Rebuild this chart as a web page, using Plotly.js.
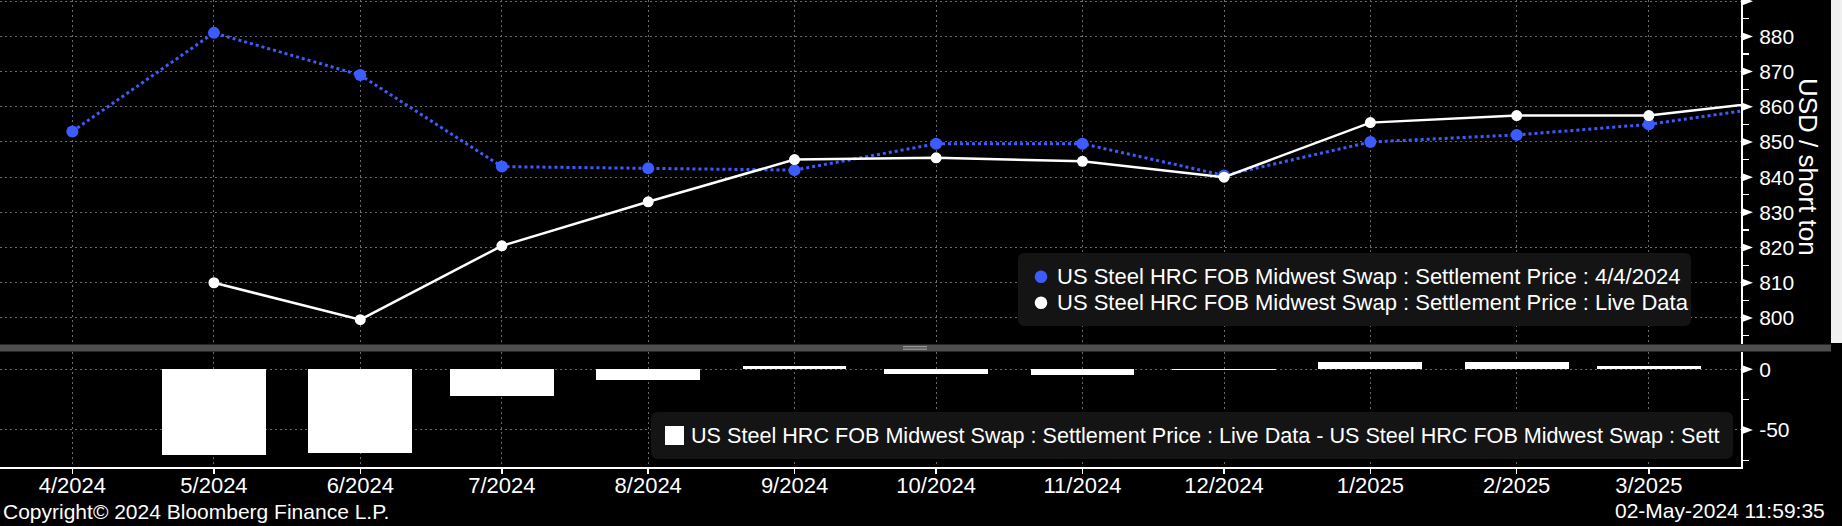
<!DOCTYPE html>
<html>
<head>
<meta charset="utf-8">
<script src="https://cdn.plot.ly/plotly-3.0.1.min.js"></script>
<style>
  html, body { margin: 0; padding: 0; background: #000; }
  #chart { width: 1842px; height: 526px; }
</style>
</head>
<body>
<div id="chart"></div>
<script>
// Contract months (first of month) on the date axis
const months = ['2024-04-01', '2024-05-01', '2024-06-01', '2024-07-01', '2024-08-01', '2024-09-01',
                '2024-10-01', '2024-11-01', '2024-12-01', '2025-01-01', '2025-02-01', '2025-03-01', '2025-04-01'];
const monthLabels = ['4/2024', '5/2024', '6/2024', '7/2024', '8/2024', '9/2024',
                     '10/2024', '11/2024', '12/2024', '1/2025', '2/2025', '3/2025'];

// US Steel HRC FOB Midwest swap settlement curve, USD / short ton
const curveApr4 = [853, 881, 869, 843, 842.5, 842, 849.5, 849.5, 840.5, 850, 852, 855, 861];
const curveLive = [null, 810, 799.5, 820.5, 833, 845, 845.5, 844.5, 840, 855.5, 857.5, 857.5, 862.3];

// Live minus 4/4/2024 curve
const spreadMonths = ['2024-05-01', '2024-06-01', '2024-07-01', '2024-08-01', '2024-09-01', '2024-10-01',
                      '2024-11-01', '2024-12-01', '2025-01-01', '2025-02-01', '2025-03-01'];
const spread = [-70.6, -69.3, -22.3, -9, 3, -3.6, -4.8, -0.5, 5.8, 5.8, 3];

// Axis ticks
const priceTicks = [800, 810, 820, 830, 840, 850, 860, 870, 880, 890];
const priceTickText = ['800', '810', '820', '830', '840', '850', '860', '870', '880', ''];
const spreadTicks = [0, -50];
const spreadTickText = ['0', '-50'];

const legendTop = [
  'US Steel HRC FOB Midwest Swap : Settlement Price : 4/4/2024',
  'US Steel HRC FOB Midwest Swap : Settlement Price : Live Data'
];
const legendBottom = 'US Steel HRC FOB Midwest Swap : Settlement Price : Live Data - US Steel HRC FOB Midwest Swap : Sett';

const FONT = 'Liberation Sans, Arial, sans-serif';
const BLUE = '#3d5cff';
const GRID = '#6a6a6a';

// Pixel geometry of the figure
const W = 1842, H = 526;
const M = { l: 0, r: 101, t: 0, b: 59 };
const PW = W - M.l - M.r;   // plot width
const PH = H - M.t - M.b;   // plot height
const px = x => (x - M.l) / PW;            // pixel x -> paper x
const py = y => (PH - (y - M.t)) / PH;     // pixel y -> paper y

const traces = [
  {
    x: months, y: curveApr4, xaxis: 'x', yaxis: 'y',
    mode: 'lines+markers', type: 'scatter',
    line: { color: BLUE, width: 3, dash: 'dot' },
    marker: { color: BLUE, size: 12 },
    hoverinfo: 'skip', showlegend: false
  },
  {
    x: months, y: curveLive, xaxis: 'x', yaxis: 'y',
    mode: 'lines+markers', type: 'scatter',
    line: { color: '#ffffff', width: 2.5 },
    marker: { color: '#ffffff', size: 11 },
    hoverinfo: 'skip', showlegend: false
  },
  {
    x: spreadMonths, y: spread, xaxis: 'x', yaxis: 'y2', type: 'bar',
    width: 22 * 86400000,
    marker: { color: '#ffffff', line: { width: 0 } },
    hoverinfo: 'skip', showlegend: false
  }
];

// Rounded rectangle in pixel units, anchored at its lower-left corner (y up)
function roundedBox(x0, y0, x1, y1, r, fill) {
  const w = x1 - x0, h = y1 - y0;
  const path = `M${r},0 L${w - r},0 Q${w},0 ${w},${r} L${w},${h - r} Q${w},${h} ${w - r},${h} ` +
               `L${r},${h} Q0,${h} 0,${h - r} L0,${r} Q0,0 ${r},0 Z`;
  return {
    type: 'path', xref: 'paper', yref: 'paper',
    xsizemode: 'pixel', ysizemode: 'pixel',
    xanchor: px(x0), yanchor: py(y1),
    path: path, fillcolor: fill, line: { width: 0 }, layer: 'above'
  };
}

const shapes = [];

// Splitter bar between the two panels
shapes.push({ type: 'rect', xref: 'paper', yref: 'paper', x0: 0, x1: px(1831),
  y0: py(351.5), y1: py(344.5), fillcolor: '#4e4e4e', line: { width: 0 }, layer: 'above' });
shapes.push({ type: 'line', xref: 'paper', yref: 'paper', x0: px(903), x1: px(927),
  y0: py(346.7), y1: py(346.7), line: { color: '#9c9c9c', width: 1.2 }, layer: 'above' });
shapes.push({ type: 'line', xref: 'paper', yref: 'paper', x0: px(903), x1: px(927),
  y0: py(349.2), y1: py(349.2), line: { color: '#9c9c9c', width: 1.2 }, layer: 'above' });

// Light strip at the right edge of the upper panel
shapes.push({ type: 'rect', xref: 'paper', yref: 'paper', x0: px(1831), x1: px(1842),
  y0: py(343), y1: 1, fillcolor: '#f0f0f0', line: { width: 0 } });

// Triangle pointers at the major price ticks
function pointer(yref, v) {
  return {
    type: 'path', xref: 'paper', yref: yref,
    xsizemode: 'pixel', ysizemode: 'pixel', xanchor: 1, yanchor: v,
    path: 'M0,-4.5 L12,0 L0,4.5 Z', fillcolor: '#ffffff', line: { width: 0 }, layer: 'above'
  };
}
priceTicks.forEach(v => shapes.push(pointer('y', v)));
spreadTicks.forEach(v => shapes.push(pointer('y2', v)));

// Legend panels
shapes.push(roundedBox(1018, 253, 1691, 326, 7, '#141414'));
shapes.push({ type: 'circle', xref: 'paper', yref: 'paper', xsizemode: 'pixel', ysizemode: 'pixel',
  xanchor: px(1041), yanchor: py(276.7), x0: -6.3, x1: 6.3, y0: -6.3, y1: 6.3,
  fillcolor: BLUE, line: { width: 0 }, layer: 'above' });
shapes.push({ type: 'circle', xref: 'paper', yref: 'paper', xsizemode: 'pixel', ysizemode: 'pixel',
  xanchor: px(1041), yanchor: py(302.7), x0: -6.3, x1: 6.3, y0: -6.3, y1: 6.3,
  fillcolor: '#ffffff', line: { width: 0 }, layer: 'above' });

shapes.push(roundedBox(651, 412, 1733, 459, 7, '#141414'));
shapes.push({ type: 'rect', xref: 'paper', yref: 'paper', x0: px(665), x1: px(684),
  y0: py(445), y1: py(426), fillcolor: '#ffffff', line: { width: 0 }, layer: 'above' });

const txt = (text, x, y, xanchor, size, extra) => Object.assign({
  text: text, xref: 'paper', yref: 'paper', x: px(x), y: py(y),
  xanchor: xanchor, yanchor: 'middle', showarrow: false,
  font: { family: FONT, size: size, color: '#ffffff' }
}, extra || {});

const annotations = [
  txt(legendTop[0], 1055, 276.7, 'left', 22),
  txt(legendTop[1], 1055, 302.7, 'left', 22),
  txt(legendBottom, 689, 435.5, 'left', 21.6),
  txt('Copyright© 2024 Bloomberg Finance L.P.', 1, 511.5, 'left', 21),
  txt('02-May-2024 11:59:35', 1827, 510.5, 'right', 21),
  txt('USD / short ton', 1808, 167, 'center', 26, { textangle: 90 })
];

const layout = {
  width: W, height: H,
  margin: M,
  paper_bgcolor: '#000000', plot_bgcolor: '#000000',
  font: { family: FONT, color: '#ffffff', size: 21 },
  showlegend: false,
  bargap: 0,
  xaxis: {
    type: 'date', anchor: 'y2',
    range: ['2024-03-16 16:10', '2025-03-20 12:30'],
    tickmode: 'array', tickvals: months.slice(0, 12), ticktext: monthLabels,
    ticks: 'outside', ticklen: 5, tickwidth: 1.5, tickcolor: '#ffffff',
    ticklabelstandoff: -7,
    tickfont: { family: FONT, size: 22, color: '#ffffff' },
    showline: true, linecolor: '#ffffff', linewidth: 2,
    showgrid: true, gridcolor: GRID, gridwidth: 1, griddash: '2px,3px',
    zeroline: false, fixedrange: true
  },
  yaxis: {
    domain: [0.2634, 1], side: 'right', anchor: 'x',
    range: [792.6, 890.34],
    tickmode: 'array', tickvals: priceTicks, ticktext: priceTickText,
    ticks: 'outside', ticklen: 12, tickcolor: 'rgba(0,0,0,0)',
    tickfont: { family: FONT, size: 21, color: '#ffffff' },
    minor: { dtick: 5, tick0: 0, ticks: 'outside', ticklen: 6, tickwidth: 1.2, tickcolor: '#ffffff', showgrid: false },
    showline: true, linecolor: '#ffffff', linewidth: 2,
    showgrid: true, gridcolor: GRID, gridwidth: 1, griddash: '2px,3px',
    zeroline: false, fixedrange: true
  },
  yaxis2: {
    domain: [0, 0.2463], side: 'right', anchor: 'x',
    range: [-80.5, 14.25],
    tickmode: 'array', tickvals: spreadTicks, ticktext: spreadTickText,
    ticks: 'outside', ticklen: 12, tickcolor: 'rgba(0,0,0,0)',
    tickfont: { family: FONT, size: 21, color: '#ffffff' },
    minor: { dtick: 25, tick0: 0, ticks: 'outside', ticklen: 6, tickwidth: 1.2, tickcolor: '#ffffff', showgrid: false },
    showline: true, linecolor: '#ffffff', linewidth: 2,
    showgrid: true, gridcolor: GRID, gridwidth: 1, griddash: '2px,3px',
    zeroline: false, fixedrange: true
  },
  shapes: shapes,
  annotations: annotations
};

Plotly.newPlot('chart', traces, layout, { displayModeBar: false, staticPlot: true });
</script>
</body>
</html>
